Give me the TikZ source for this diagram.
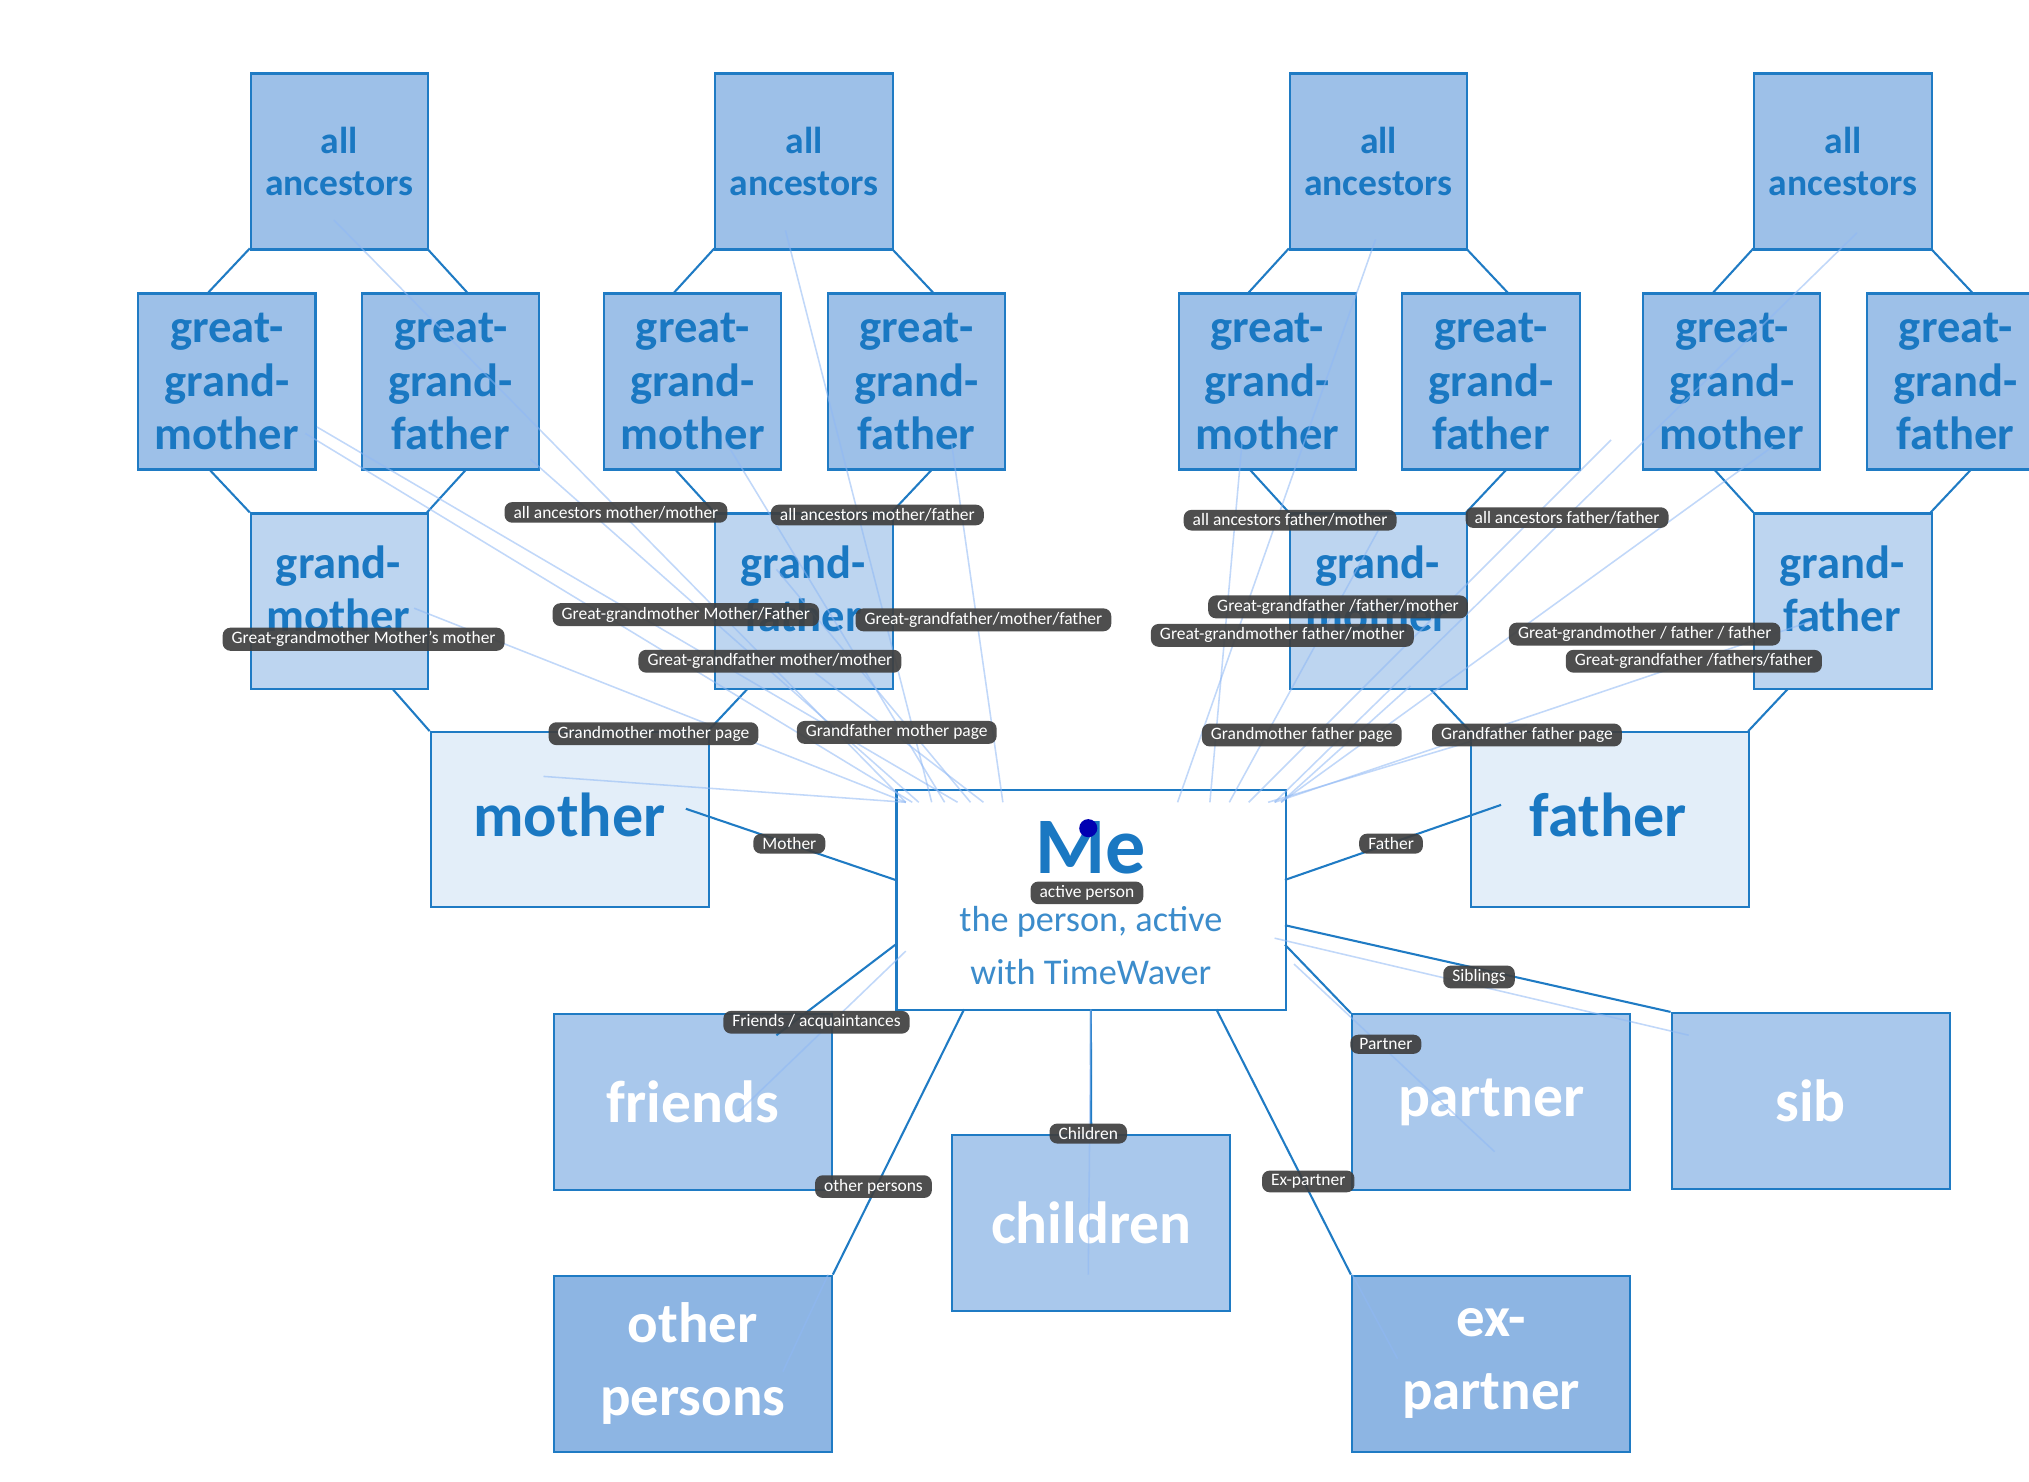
\documentclass[tikz,border=0pt]{standalone}
\usepackage{fontspec}
\setmainfont{Carlito}
\begin{document}
\begin{tikzpicture}[x=1pt,y=-1pt,
 bx/.style={draw=bord,line width=1.6pt,fill=#1,inner sep=0,text=tblue,align=center,anchor=north west},
 fA/.style={font=\bfseries\fontsize{29}{33}\selectfont},
 fG/.style={font=\bfseries\fontsize{36}{41}\selectfont},
 tl/.style={draw=bord,line width=1.6pt},
 fl/.style={draw=faint,line width=1.2pt,opacity=.55},
 pill/.style={fill=pillc,text=white,rounded corners=6pt,font=\fontsize{13.5}{15}\selectfont,inner xsep=7pt,inner ysep=3pt,fill opacity=.92,text opacity=1}]
\definecolor{bord}{HTML}{1F7BC4}\definecolor{tblue}{HTML}{1A78C2}
\definecolor{cA}{HTML}{9DC0E8}\definecolor{cG}{HTML}{BDD5F0}\definecolor{cM}{HTML}{E3EEF9}
\definecolor{cB}{HTML}{A9C8EC}\definecolor{cD}{HTML}{8DB5E3}\definecolor{faint}{HTML}{8FB8F5}
\definecolor{pillc}{HTML}{3F3F3F}
\useasboundingbox[fill=white] (0,0) rectangle (1568,1145);
% tree links
\foreach \x/\l/\r in {193/106/279,552/466/639,996/910/1083,1355/1269/1442}{
 \pgfmathsetmacro\xa{\x+137}\pgfmathsetmacro\ml{\l+55}\pgfmathsetmacro\mr{\r+82}
 \draw[tl] (\x,192)--(\ml,226) (\xa,192)--(\mr,226) (\x,396)--(\ml,362) (\xa,396)--(\mr,362);}
\draw[tl] (303,532)--(332,565) (578,532)--(547,565) (1105,532)--(1136,565) (1382,532)--(1351,565);
% boxes
\foreach \x/\n in {193/a1,552/a2,996/a3,1355/a4}{\node[bx=cA,fA,minimum width=137pt,minimum height=136pt] (\n) at (\x,56) {all\\ancestors};}
\foreach \x/\n/\t in {106/g1/mother,279/g2/father,466/g3/mother,639/g4/father,910/g5/mother,1083/g6/father,1269/g7/mother,1442/g8/father}{\node[bx=cA,fG,minimum width=137pt,minimum height=136pt] (\n) at (\x,226) {great-\\grand-\\\t};}
\foreach \x/\n/\t in {193/m1/mother,552/m2/father,996/m3/mother,1355/m4/father}{
\node[bx=cG,minimum width=137pt,minimum height=136pt] (\n) at (\x,396) {};
\node[text=tblue,fG,align=center,anchor=north] at (\x+68.5,418) {grand-\\\t};}
\node[bx=cM,minimum width=215pt,minimum height=135pt] (mo) at (332,565) {};
\node[text=tblue,font=\bfseries\fontsize{48}{50}\selectfont] at (440,630) {mother};
\node[bx=cM,minimum width=215pt,minimum height=135pt] (fa) at (1136,565) {};
\node[text=tblue,font=\bfseries\fontsize{48}{50}\selectfont] at (1243,630) {father};
\node[bx=white,minimum width=301pt,minimum height=170pt] (me) at (692,610) {};
\node[text=tblue,font=\bfseries\fontsize{62}{62}\selectfont] (met) at (843,655) {Me};
\fill[blue!70!black] (841,640) circle (7pt);
\node[text=tblue!85,align=center,font=\fontsize{28}{41}\selectfont] (mes) at (843,731) {the person, active\\with TimeWaver};
\foreach \x/\y/\n/\t/\c in {427/783/fr/friends/cB,1044/783/pa/partner/cB,1291/782/si/sib/cB,735/876/ch/children/cB}{
 \node[bx=\c,minimum width=215pt,minimum height=136pt,text=white,font=\bfseries\fontsize{46}{50}\selectfont] (\n) at (\x,\y) {\t};}
\node[bx=cD,minimum width=215pt,minimum height=136pt,text=white,font=\bfseries\fontsize{44}{56}\selectfont] (op) at (427,985) {other\\persons};
\node[bx=cD,minimum width=215pt,minimum height=136pt,text=white,font=\bfseries\fontsize{44}{56}\selectfont] (ex) at (1044,985) {ex-\\partner};
% main connectors
\coordinate (mL1) at (692,680);\coordinate (mR1) at (993,680);
\draw[tl] (530,625)--(mL1); \draw[tl] (mR1)--(1160,622);
\draw[tl] (692,730)--(600,800); \draw[tl] (993,715)--(si.north west);
\draw[tl] (993,730)--(pa.north west); \draw[tl] (843,780)--(ch.north);
\draw[tl] (745,780)--(op.north east); \draw[tl] (940,780)--(ex.north west);
% faint lines
\foreach \a/\bx/\by in {700/258/170, 705/236/335, 710/410/355, 700/320/470, 720/607/178, 730/560/340, 750/600/440, 775/735/340, 740/245/330, 760/630/520, 700/420/600}{
 \draw[fl] (\a,620)--(\bx,\by);}
\foreach \a/\bx/\by in {910/1063/185, 935/960/340, 950/1065/410, 965/1245/340, 985/1435/180, 990/1370/345, 985/1400/480, 980/1180/560, 990/1090/530}{
 \draw[fl] (\a,620)--(\bx,\by);}
\draw[fl] (985,725)--(1305,800); \draw[fl] (1000,745)--(1155,890); \draw[fl] (700,735)--(570,860);
\draw[fl] (640,985)--(605,1060); \draw[fl] (1045,985)--(1080,1050); \draw[fl] (843,780)--(841,985);
% labels
\foreach \x/\y/\t in {476/396/{all ancestors mother/mother},678/398/{all ancestors mother/father},997/402/{all ancestors father/mother},1211/400/{all ancestors father/father},
1034/469/{Great-grandfather /father/mother},530/475/{Great-grandmother Mother/Father},760/479/{Great-grandfather/mother/father},281/494/{Great-grandmother Mother's mother},
991/491/{Great-grandmother father/mother},1271/490/{Great-grandmother / father / father},1309/511/{Great-grandfather /fathers/father},595/511/{Great-grandfather mother/mother},
505/567/{Grandmother mother page},693/566/{Grandfather mother page},1006/568/{Grandmother father page},1180/568/{Grandfather father page},
610/652/{Mother},1075/652/{Father},840/690/{active person},1143/755/{Siblings},631/790/{Friends / acquaintances},1071/807/{Partner},841/876/{Children},675/917/{other persons},1011/913/{Ex-partner}}
 \node[pill] at (\x,\y) {\t};
\end{tikzpicture}
\end{document}
